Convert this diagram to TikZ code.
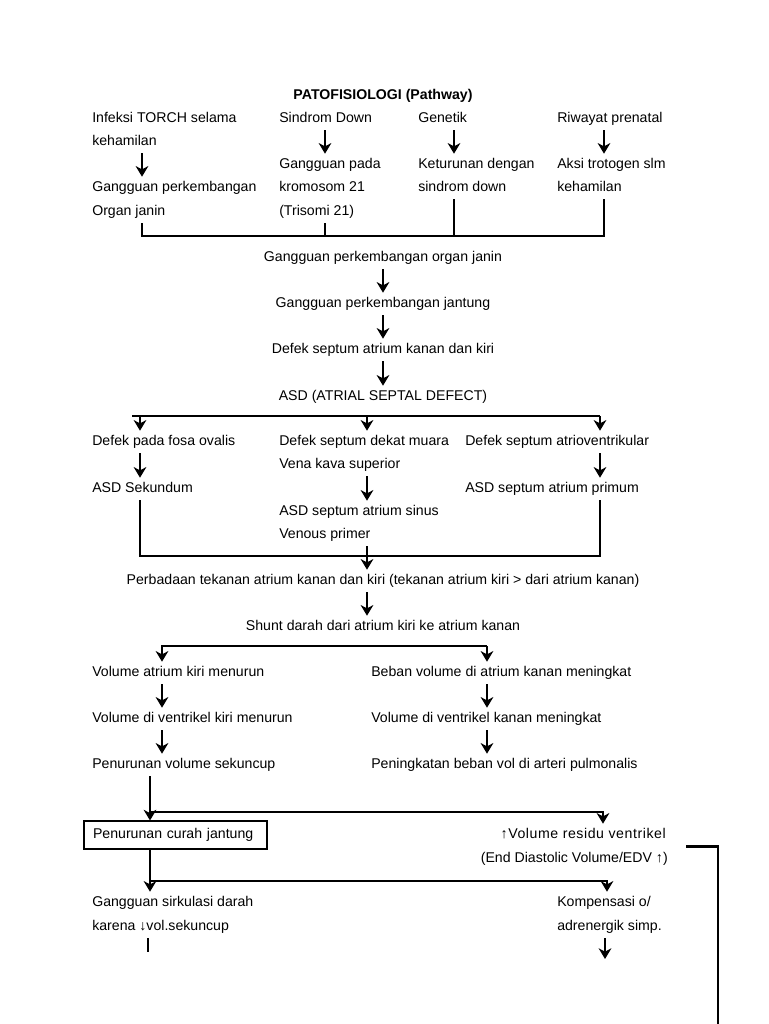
\documentclass[tikz,border=0pt]{standalone}
\usepackage{fontspec}
\setmainfont{Liberation Sans}
\usetikzlibrary{arrows.meta}

\tikzset{
  txt/.style={anchor=west, inner xsep=0pt, inner ysep=3pt, text height=8pt, text depth=2.5pt, yshift=-1.5pt, font=\fontsize{10.6}{12}\selectfont},
  ctxt/.style={txt, anchor=center},
  rtxt/.style={txt, anchor=east},
  boxed/.style={txt, draw, line width=1.5pt, inner xsep=6.75pt, inner ysep=4.9pt, text width=124pt},
  arr/.style={-{Stealth[length=8pt,width=9.5pt,inset=2.5pt]}, line width=2pt},
  link/.style={line width=2pt},
}

\begin{document}
\begin{tikzpicture}[x=0.75pt,y=-0.75pt]

  \fill[white] (0,0) rectangle (768,1024);
  \useasboundingbox (0,0) rectangle (768,1024);

  % Columns and join lines
  \coordinate (cA) at (142,0);
  \coordinate (cB) at (325,0);
  \coordinate (cC) at (454,0);
  \coordinate (cD) at (604,0);
  \coordinate (cE) at (140,0);
  \coordinate (cF) at (367,0);
  \coordinate (cG) at (600,0);
  \coordinate (cH) at (162,0);
  \coordinate (cI) at (487,0);
  \coordinate (cJ) at (150,0);
  \coordinate (cK) at (603,0);
  \coordinate (cL) at (607,0);
  \coordinate (jn1) at (0,236);
  \coordinate (br1) at (132,416);
  \coordinate (br1e) at (600,416);
  \coordinate (jn2) at (0,556);
  \coordinate (br2) at (0,646);
  \coordinate (br3) at (0,812);
  \coordinate (br4) at (0,881);
  \coordinate (endL) at (148,952);
  \coordinate (endR) at (605,959);
  \coordinate (endE) at (718,1024);

  % Title
  \node[ctxt, font=\bfseries\fontsize{10.6}{12}\selectfont] (title) at (383,94) {PATOFISIOLOGI (Pathway)};

  % Causes
  \node[txt] (torA) at (92,117) {Infeksi TORCH selama};
  \node[txt] (torB) at (92,140) {kehamilan};
  \node[txt] (gpoA) at (92,186) {Gangguan perkembangan};
  \node[txt] (gpoB) at (92,210) {Organ janin};
  \node[txt] (sdA) at (279,117) {Sindrom Down};
  \node[txt] (kroA) at (279,163) {Gangguan pada};
  \node[txt] (kroB) at (279,186) {kromosom 21};
  \node[txt] (kroC) at (279,210) {(Trisomi 21)};
  \node[txt] (gen) at (418,117) {Genetik};
  \node[txt] (ketA) at (418,163) {Keturunan dengan};
  \node[txt] (ketB) at (418,186) {sindrom down};
  \node[txt] (rwy) at (557,117) {Riwayat prenatal};
  \node[txt] (aksA) at (557,163) {Aksi trotogen slm};
  \node[txt] (aksB) at (557,186) {kehamilan};

  % Main chain
  \node[ctxt] (gpoj) at (383,256) {Gangguan perkembangan organ janin};
  \node[ctxt] (gpj) at (383,302) {Gangguan perkembangan jantung};
  \node[ctxt] (dsak) at (383,348) {Defek septum atrium kanan dan kiri};
  \node[ctxt] (asd) at (383,395) {ASD (ATRIAL SEPTAL DEFECT)};

  % ASD types
  \node[txt] (dfo) at (92,440) {Defek pada fosa ovalis};
  \node[txt] (asdS) at (92,487) {ASD Sekundum};
  \node[txt] (dvkA) at (279,440) {Defek septum dekat muara};
  \node[txt] (dvkB) at (279,463) {Vena kava superior};
  \node[txt] (sinA) at (279,510) {ASD septum atrium sinus};
  \node[txt] (sinB) at (279,533) {Venous primer};
  \node[txt] (dav) at (465,440) {Defek septum atrioventrikular};
  \node[txt] (asdP) at (465,487) {ASD septum atrium primum};

  % Pressure and shunt
  \node[ctxt] (perb) at (383,579) {Perbadaan tekanan atrium kanan dan kiri (tekanan atrium kiri > dari atrium kanan)};
  \node[ctxt] (shunt) at (383,625) {Shunt darah dari atrium kiri ke atrium kanan};

  % Left and right sides
  \node[txt] (vak) at (92,671) {Volume atrium kiri menurun};
  \node[txt] (vvk) at (92,717) {Volume di ventrikel kiri menurun};
  \node[txt] (pvs) at (92,763) {Penurunan volume sekuncup};
  \node[txt] (bva) at (371,671) {Beban volume di atrium kanan meningkat};
  \node[txt] (vvka) at (371,717) {Volume di ventrikel kanan meningkat};
  \node[txt] (pbv) at (371,763) {Peningkatan beban vol di arteri pulmonalis};

  % Cardiac output
  \node[boxed] (pcj) at (83,833) {Penurunan curah jantung};
  \node[rtxt, font=\fontsize{10.6}{12}\selectfont\addfontfeature{LetterSpace=4}] (vrv) at (666,833) {↑Volume residu ventrikel};
  \node[rtxt] (edv) at (668,857) {(End Diastolic Volume/EDV ↑)};
  \node[txt] (gsd) at (92,901) {Gangguan sirkulasi darah};
  \node[txt] (kvs) at (92,925) {karena ↓vol.sekuncup};
  \node[txt] (kmp) at (557,901) {Kompensasi o/};
  \node[txt] (adr) at (557,925) {adrenergik simp.};

  % Connections: causes
  \draw[arr] (torB.south -| cA) -- (gpoA.north -| cA);
  \draw[arr] (sdA.south -| cB) -- (kroA.north -| cB);
  \draw[arr] (gen.south -| cC) -- (ketA.north -| cC);
  \draw[arr] (rwy.south -| cD) -- (aksA.north -| cD);
  \draw[link] (gpoB.south -| cA) -- (jn1 -| cA) -- (jn1 -| cD) -- (aksB.south -| cD);
  \draw[link] (kroC.south -| cB) -- (jn1 -| cB);
  \draw[link] (ketB.south -| cC) -- (jn1 -| cC);

  % Connections: main chain
  \draw[arr] (gpoj) -- (gpj);
  \draw[arr] (gpj) -- (dsak);
  \draw[arr] (dsak) -- (asd);

  % Connections: ASD types
  \draw[link] (br1) -- (br1e);
  \draw[arr] (br1 -| cE) -- (dfo.north -| cE);
  \draw[arr] (br1 -| cF) -- (dvkA.north -| cF);
  \draw[arr] (br1e) -- (dav.north -| cG);
  \draw[arr] (dfo.south -| cE) -- (asdS.north -| cE);
  \draw[arr] (dvkB.south -| cF) -- (sinA.north -| cF);
  \draw[arr] (dav.south -| cG) -- (asdP.north -| cG);
  \draw[link] (asdS.south -| cE) -- (jn2 -| cE) -- (jn2 -| cG) -- (asdP.south -| cG);
  \draw[arr] (sinB.south -| cF) -- (perb.north -| cF);
  \draw[arr] (perb.south -| cF) -- (shunt.north -| cF);

  % Connections: shunt
  \draw[arr] (br2 -| cI) -- (br2 -| cH) -- (vak.north -| cH);
  \draw[arr] (br2 -| cI) -- (bva.north -| cI);
  \draw[arr] (vak.south -| cH) -- (vvk.north -| cH);
  \draw[arr] (vvk.south -| cH) -- (pvs.north -| cH);
  \draw[arr] (bva.south -| cI) -- (vvka.north -| cI);
  \draw[arr] (vvka.south -| cI) -- (pbv.north -| cI);

  % Connections: cardiac output
  \draw[arr] (pvs.south -| cJ) -- (pcj.north -| cJ);
  \draw[arr] (br3 -| cJ) -- (br3 -| cK) -- (vrv.north -| cK);
  \draw[arr] (pcj.south -| cJ) -- (gsd.north -| cJ);
  \draw[arr] (br4 -| cJ) -- (br4 -| cL) -- (kmp.north -| cL);
  \draw[link] (vrv.south east) ++(20,0) -| (endE);
  \draw[line width=0.8pt] (kvs.south -| endL) -- (endL);
  \draw[arr] (adr.south -| endR) -- (endR);

\end{tikzpicture}
\end{document}
